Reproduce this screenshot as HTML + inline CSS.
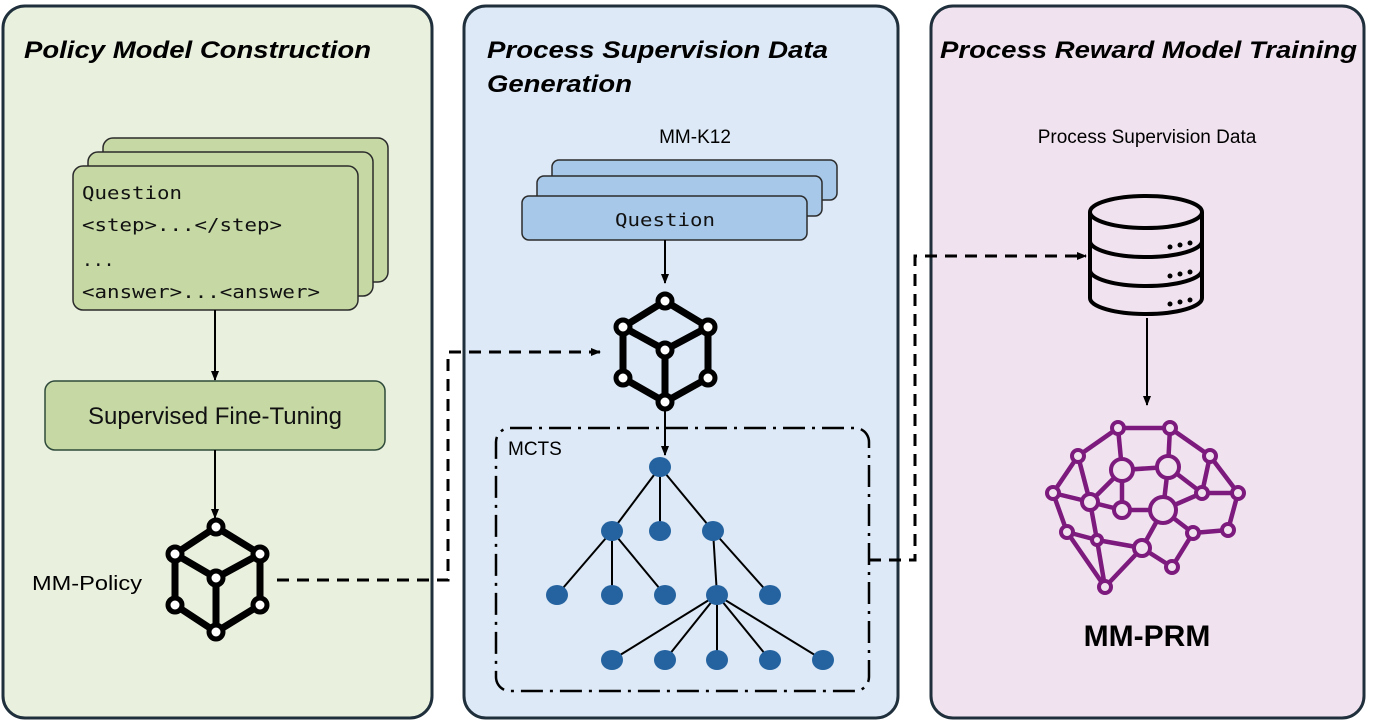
<!DOCTYPE html>
<html><head><meta charset="utf-8"><style>html,body{margin:0;padding:0;background:#fff}svg{display:block}</style></head>
<body>
<svg width="1376" height="724" viewBox="0 0 1376 724" xmlns="http://www.w3.org/2000/svg">
<defs>
<marker id="ah" markerWidth="10" markerHeight="10" refX="9" refY="5" orient="auto" markerUnits="userSpaceOnUse"><path d="M0,1 L10,5 L0,9 z" fill="#000"/></marker>
</defs>
<rect x="3" y="6" width="429" height="712" rx="22" fill="#e9f0de" stroke="#1f2f3b" stroke-width="3"/>
<rect x="464" y="6" width="434" height="712" rx="22" fill="#dde9f6" stroke="#1f2f3b" stroke-width="3"/>
<rect x="931" y="6" width="433" height="712" rx="22" fill="#f1e2ef" stroke="#1f2f3b" stroke-width="3"/>
<g font-family="Liberation Sans, sans-serif" font-weight="bold" font-style="italic" font-size="24" fill="#000">
<text x="24" y="58" textLength="347" lengthAdjust="spacingAndGlyphs">Policy Model Construction</text>
<text x="487" y="58" textLength="341" lengthAdjust="spacingAndGlyphs">Process Supervision Data</text>
<text x="487" y="92" textLength="145" lengthAdjust="spacingAndGlyphs">Generation</text>
<text x="940" y="58" textLength="417" lengthAdjust="spacingAndGlyphs">Process Reward Model Training</text>
</g>
<g stroke="#2b2b2b" stroke-width="1.5" fill="#c6d9a5">
<rect x="103" y="138" width="285" height="144" rx="10"/>
<rect x="88" y="152" width="285" height="144" rx="10"/>
<rect x="73" y="166" width="285" height="144" rx="10"/>
</g>
<g font-family="DejaVu Sans Mono, Liberation Mono, monospace" font-size="18" fill="#111">
<text x="82" y="199" textLength="100" lengthAdjust="spacingAndGlyphs">Question</text>
<text x="82" y="231" textLength="200" lengthAdjust="spacingAndGlyphs">&lt;step&gt;...&lt;/step&gt;</text>
<text x="82" y="266">...</text>
<text x="82" y="298" textLength="238" lengthAdjust="spacingAndGlyphs">&lt;answer&gt;...&lt;answer&gt;</text>
</g>
<line x1="215" y1="310" x2="215" y2="380" stroke="#000" stroke-width="2" marker-end="url(#ah)"/>
<rect x="45" y="381" width="340" height="69" rx="10" fill="#c6d9a5" stroke="#2f4a3a" stroke-width="1.5"/>
<text x="215" y="424" text-anchor="middle" font-family="Liberation Sans, sans-serif" font-size="24" fill="#111">Supervised Fine-Tuning</text>
<line x1="215" y1="450" x2="215" y2="518" stroke="#000" stroke-width="2" marker-end="url(#ah)"/>
<g stroke="#000" stroke-width="7" fill="none" stroke-linejoin="round">
<path d="M216,527 L175,554 L216,578 L260,554 Z M175,554 L175,605 L216,632 L260,605 L260,554 M216,578 L216,632"/>
</g>
<g stroke="#000" stroke-width="5" fill="#fff">
<circle cx="216" cy="527" r="7"/><circle cx="175" cy="554" r="7"/><circle cx="260" cy="554" r="7"/><circle cx="216" cy="578" r="7"/><circle cx="175" cy="605" r="7"/><circle cx="260" cy="605" r="7"/><circle cx="216" cy="632" r="7"/>
</g>
<text x="32" y="590" font-family="Liberation Sans, sans-serif" font-size="20" fill="#000" textLength="110" lengthAdjust="spacingAndGlyphs">MM-Policy</text>
<path d="M277,580 L448,580 L448,352 L600,352" fill="none" stroke="#000" stroke-width="3" stroke-dasharray="12,8" marker-end="url(#ah)"/>
<text x="695" y="143" text-anchor="middle" font-family="Liberation Sans, sans-serif" font-size="19" fill="#000">MM-K12</text>
<g stroke="#2b2b2b" stroke-width="1.5" fill="#a7c8e8">
<rect x="552" y="160" width="285" height="40" rx="7"/>
<rect x="537" y="176" width="285" height="40" rx="7"/>
<rect x="522" y="196" width="285" height="44" rx="7"/>
</g>
<text x="665" y="226" text-anchor="middle" font-family="DejaVu Sans Mono, Liberation Mono, monospace" font-size="18" fill="#111" textLength="100" lengthAdjust="spacingAndGlyphs">Question</text>
<line x1="665" y1="240" x2="665" y2="283" stroke="#000" stroke-width="2" marker-end="url(#ah)"/>
<g stroke="#000" stroke-width="7" fill="none" stroke-linejoin="round">
<path d="M665,301 L623,327 L665,350 L708,327 Z M623,327 L623,378 L665,402 L708,378 L708,327 M665,350 L665,402"/>
</g>
<g stroke="#000" stroke-width="5" fill="#fff">
<circle cx="665" cy="301" r="7"/><circle cx="623" cy="327" r="7"/><circle cx="708" cy="327" r="7"/><circle cx="665" cy="350" r="7"/><circle cx="623" cy="378" r="7"/><circle cx="708" cy="378" r="7"/><circle cx="665" cy="402" r="7"/>
</g>
<rect x="496" y="428" width="373" height="263" rx="14" fill="none" stroke="#000" stroke-width="2.5" stroke-dasharray="22,7,3,7"/>
<text x="508" y="455" font-family="Liberation Sans, sans-serif" font-size="19" fill="#000">MCTS</text>
<line x1="665" y1="410" x2="665" y2="455" stroke="#000" stroke-width="2" marker-end="url(#ah)"/>
<g stroke="#000" stroke-width="2">
<path d="M660,467 L612,531 M660,467 L660,531 M660,467 L713,531"/>
<path d="M612,531 L557,595 M612,531 L612,595 M612,531 L665,595 M713,531 L717,595 M713,531 L770,595"/>
<path d="M717,595 L612,660 M717,595 L665,660 M717,595 L717,660 M717,595 L770,660 M717,595 L823,660"/>
</g>
<g fill="#2563a0">
<ellipse cx="660" cy="467" rx="11" ry="10"/>
<ellipse cx="612" cy="531" rx="11" ry="10"/><ellipse cx="660" cy="531" rx="11" ry="10"/><ellipse cx="713" cy="531" rx="11" ry="10"/>
<ellipse cx="557" cy="595" rx="11" ry="10"/><ellipse cx="612" cy="595" rx="11" ry="10"/><ellipse cx="665" cy="595" rx="11" ry="10"/><ellipse cx="717" cy="595" rx="11" ry="10"/><ellipse cx="770" cy="595" rx="11" ry="10"/>
<ellipse cx="612" cy="660" rx="11" ry="10"/><ellipse cx="665" cy="660" rx="11" ry="10"/><ellipse cx="717" cy="660" rx="11" ry="10"/><ellipse cx="770" cy="660" rx="11" ry="10"/><ellipse cx="823" cy="660" rx="11" ry="10"/>
</g>
<path d="M869,560 L915,560 L915,256 L1086,256" fill="none" stroke="#000" stroke-width="3" stroke-dasharray="12,8" marker-end="url(#ah)"/>
<text x="1147" y="143" text-anchor="middle" font-family="Liberation Sans, sans-serif" font-size="19" fill="#000">Process Supervision Data</text>
<g stroke="#000" stroke-width="4" fill="none">
<ellipse cx="1146" cy="212" rx="56" ry="16"/>
<path d="M1090,212 L1090,298 A56,16 0 0 0 1202,298 L1202,212"/>
<path d="M1090,241 A56,16 0 0 0 1202,241"/>
<path d="M1090,270 A56,16 0 0 0 1202,270"/>
</g>
<g fill="#000">
<circle cx="1170" cy="247" r="2.5"/><circle cx="1180" cy="245" r="2.5"/><circle cx="1190" cy="243" r="2.5"/>
<circle cx="1170" cy="276" r="2.5"/><circle cx="1180" cy="274" r="2.5"/><circle cx="1190" cy="272" r="2.5"/>
<circle cx="1170" cy="304" r="2.5"/><circle cx="1180" cy="302" r="2.5"/><circle cx="1190" cy="300" r="2.5"/>
</g>
<line x1="1147" y1="318" x2="1147" y2="405" stroke="#000" stroke-width="2" marker-end="url(#ah)"/>
<g stroke="#7d1a7d" stroke-width="4.5" fill="none" stroke-linejoin="round">
<path d="M1118,428 L1170,428 M1118,428 L1078,456 M1118,428 L1122,470 M1170,428 L1168,467 M1170,428 L1210,456 M1078,456 L1053,493 M1078,456 L1090,502 M1122,470 L1168,467 M1122,470 L1090,502 M1168,467 L1163,510 M1168,467 L1202,493 M1210,456 L1202,493 M1210,456 L1238,493 M1053,493 L1067,532 M1053,493 L1090,502 M1090,502 L1122,510 M1090,502 L1097,540 M1122,510 L1163,510 M1163,510 L1202,493 M1202,493 L1238,493 M1238,493 L1228,530 M1163,510 L1193,533 M1193,533 L1228,530 M1163,510 L1142,548 M1097,540 L1142,548 M1067,532 L1097,540 M1097,540 L1105,587 M1067,532 L1105,587 M1142,548 L1172,567 M1193,533 L1172,567 M1105,587 L1142,548 M1122,470 L1122,510"/>
</g>
<g stroke="#7d1a7d" stroke-width="4" fill="#f1e2ef">
<circle cx="1118" cy="428" r="6"/><circle cx="1170" cy="428" r="6"/><circle cx="1078" cy="456" r="6"/><circle cx="1210" cy="456" r="6"/>
<circle cx="1122" cy="470" r="11"/><circle cx="1168" cy="467" r="11"/><circle cx="1053" cy="493" r="6"/><circle cx="1090" cy="502" r="8"/>
<circle cx="1122" cy="510" r="8"/><circle cx="1163" cy="510" r="13"/><circle cx="1202" cy="493" r="6"/><circle cx="1238" cy="493" r="6"/>
<circle cx="1067" cy="532" r="6"/><circle cx="1097" cy="540" r="5"/><circle cx="1142" cy="548" r="8"/><circle cx="1193" cy="533" r="6"/>
<circle cx="1228" cy="530" r="6"/><circle cx="1172" cy="567" r="6"/><circle cx="1105" cy="587" r="6"/>
</g>
<text x="1147" y="646" text-anchor="middle" font-family="Liberation Sans, sans-serif" font-weight="bold" font-size="30" fill="#000">MM-PRM</text>
</svg>
</body></html>
